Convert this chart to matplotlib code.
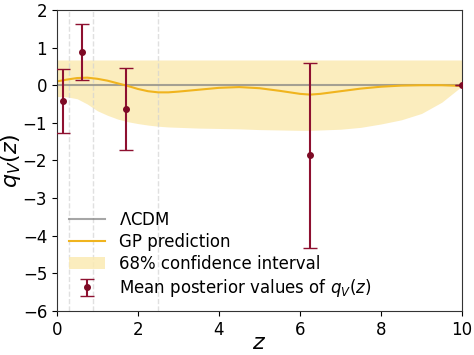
import numpy as np
import matplotlib
matplotlib.use("Agg")
import matplotlib.pyplot as plt

# GP mean and 68% band
z_gp = [0.0, 0.25, 0.5, 0.75, 1.0, 1.25, 1.5, 1.75, 2.0, 2.25, 2.5, 2.75, 3.0,
        3.5, 4.0, 4.5, 5.0, 5.5, 6.0, 6.25, 6.5, 7.0, 7.5, 8.0, 8.5, 9.0, 9.5, 10.0]
q_gp = [0.10, 0.15, 0.19, 0.20, 0.17, 0.12, 0.05, -0.02, -0.10, -0.16, -0.19, -0.19, -0.17,
        -0.12, -0.07, -0.05, -0.08, -0.15, -0.23, -0.25, -0.23, -0.16, -0.09, -0.04, -0.01, 0.0, 0.0, -0.02]
q_lo = [-0.30, -0.31, -0.36, -0.50, -0.68, -0.80, -0.90, -0.97, -1.02, -1.06, -1.09, -1.11, -1.12,
        -1.14, -1.15, -1.16, -1.18, -1.19, -1.20, -1.20, -1.19, -1.17, -1.12, -1.03, -0.92, -0.75, -0.45, -0.02]
q_hi = [0.67] * len(z_gp)

# binned posterior means
z_pts = [0.15, 0.61, 1.70, 6.25, 10.0]
q_pts = [-0.43, 0.88, -0.62, -1.85, 0.0]
err_lo = [0.84, 0.75, 1.10, 2.47, 0.0]
err_hi = [0.85, 0.74, 1.09, 2.43, 0.0]

z_edges = [0.3, 0.9, 2.5]

fig, ax = plt.subplots(figsize=(4.74, 3.55), dpi=100)

for zb in z_edges:
    ax.axvline(zb, color='lightgrey', linestyle='--', linewidth=1, alpha=0.7)

ax.axhline(0, color='grey', linewidth=1.5, alpha=0.7, label=r'$\Lambda$CDM')
ax.plot(z_gp, q_gp, color='#f0b41e', linewidth=1.5, label='GP prediction')
ax.fill_between(z_gp, q_lo, q_hi, color='#fbeab3', alpha=0.85, linewidth=0,
                label='68% confidence interval')
ax.errorbar(z_pts, q_pts, yerr=[err_lo, err_hi], fmt='o', color='#7d0a25',
            ecolor='#8e1030', markersize=4, capsize=5, elinewidth=1.5,
            label=r'Mean posterior values of $q_V(z)$', zorder=5)

ax.set_xlim(0, 10)
ax.set_ylim(-6, 2)
ax.set_xticks([0, 2, 4, 6, 8, 10])
ax.set_yticks(range(-6, 3))
ax.tick_params(labelsize=12)
for s in ax.spines.values():
    s.set_color('#333333')
ax.set_xlabel(r'$z$', fontsize=16, labelpad=-4)
ax.set_ylabel(r'$q_V(z)$', fontsize=16, labelpad=0)
ax.legend(loc='lower left', frameon=False, fontsize=12, handlelength=2.2,
          labelspacing=0.25, borderaxespad=0.3)

fig.subplots_adjust(left=0.12, right=0.975, top=0.972, bottom=0.124)
fig.savefig('out.png', dpi=100)
